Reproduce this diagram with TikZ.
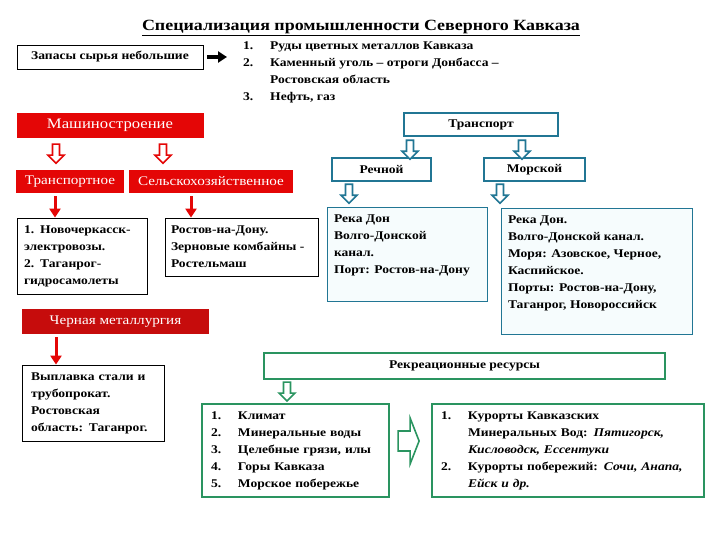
\documentclass[tikz,border=0pt]{standalone}
\usepackage{fontspec}
\setmainfont{Liberation Serif}[FakeStretch=1.15]
\usetikzlibrary{arrows.meta,calc}

\definecolor{mred}{RGB}{228,6,6}
\definecolor{metred}{RGB}{198,12,12}
\definecolor{mteal}{RGB}{33,118,148}
\definecolor{tealfill}{RGB}{246,252,253}
\definecolor{mgreen}{RGB}{42,148,96}

\newcommand{\itm}[1]{\makebox[27pt][l]{#1}}
\newcommand{\toptext}[3]{\parbox[c][#1][t]{#2}{\raggedright\vspace*{3pt}#3}}

\begin{document}
\begin{tikzpicture}
	[ x=1pt, y=-1pt,
		every node/.style={font=\fontsize{11.8}{17}\selectfont\bfseries},
		plain/.style={rectangle,draw=black,line width=0.8pt,fill=white,inner sep=0pt},
		redbox/.style={rectangle,fill=mred,text=white,inner sep=0pt,font=\fontsize{13.2}{15}\selectfont},
		tealhead/.style={rectangle,draw=mteal,line width=2.6pt,fill=white,inner sep=0pt},
		tealbox/.style={rectangle,draw=mteal,line width=0.9pt,fill=tealfill,inner xsep=7pt,inner ysep=5pt},
		greenbox/.style={rectangle,draw=mgreen,line width=2.2pt,fill=white,inner sep=0pt},
		fillarrow/.style={line width=3pt,-{Triangle[width=11pt,length=9pt]}},
		redhollow/.style={draw=mred,line width=1.6pt,fill=white},
		tealhollow/.style={draw=mteal,line width=1.6pt,fill=white},
		greenhollow/.style={draw=mgreen,line width=1.6pt,fill=white},
		pics/hollowdown/.style={code={
			\draw[pic actions] (-3.5,0) -- (-3.5,11) -- (-8,11) -- (0,19) -- (8,11) -- (3.5,11) -- (3.5,0) -- cycle;}},
		pics/hollowright/.style={code={
			\draw[pic actions] (0,-10) -- (12,-10) -- (12,-23) -- (21,0) -- (12,23) -- (12,10) -- (0,10) -- cycle;}}]

	\fill[white] (0,0) rectangle (720,540);
	\useasboundingbox (0,0) rectangle (720,540);

	\node (title) at (361,28) {\fontsize{15.6}{18}\selectfont\underline{Специализация промышленности Северного Кавказа}};

	% raw materials
	\node[plain,minimum width=186pt,minimum height=24pt] (reserves) at (110,57) {Запасы сырья небольшие};
	\node[anchor=north west,align=left,inner sep=0pt] (ores) at (243,42)
		{\itm{1.}Руды цветных металлов Кавказа\\
		 \itm{2.}Каменный уголь – отроги Донбасса –\\
		 \hspace*{27pt}Ростовская область\\
		 \itm{3.}Нефть, газ};
	\draw[fillarrow,line width=3.5pt,shorten <=4pt,shorten >=16pt] (reserves.east) -- (reserves.east -| ores.west);

	% engineering
	\node[redbox,minimum width=187pt,minimum height=25pt,font=\fontsize{14.5}{16}\selectfont] (mach) at (110,125.5) {Машиностроение};
	\node[redbox,minimum width=108pt,minimum height=23pt] (transp) at (70,181.5) {Транспортное};
	\node[redbox,minimum width=164pt,minimum height=23pt] (agri) at (211,181.5) {Сельскохозяйственное};
	\pic[redhollow] at ([xshift=-54pt,yshift=-6pt]mach.south) {hollowdown};
	\pic[redhollow] at ([xshift=53pt,yshift=-6pt]mach.south) {hollowdown};

	\node[plain,minimum width=130pt,minimum height=76pt,text width=116pt,align=left] (novo) at (82,256)
		{1. Новочеркасск-\\электровозы.\\2. Таганрог-\\гидросамолеты};
	\node[plain,minimum width=153pt,minimum height=58pt,inner xsep=6pt,inner ysep=5pt] (rostov) at (241.5,247)
		{\toptext{48pt}{141pt}{Ростов-на-Дону.\\Зерновые комбайны -\\Ростельмаш}};
	\draw[fillarrow,draw=mred] ([xshift=-15pt,yshift=-3pt]transp.south) -- ([xshift=-15pt]transp.south |- novo.north);
	\draw[fillarrow,draw=mred] ([xshift=-20pt,yshift=-3pt]agri.south) -- ([xshift=-20pt]agri.south |- rostov.north);

	% metallurgy
	\node[redbox,fill=metred,minimum width=187pt,minimum height=25pt] (metal) at (115.5,321.5) {Черная металлургия};
	\node[plain,minimum width=142pt,minimum height=76pt,text width=124pt,align=left] (steel) at (93,403)
		{Выплавка стали и\\трубопрокат.\\Ростовская\\область: Таганрог.};
	\draw[fillarrow,draw=mred] ([xshift=-59.5pt,yshift=-3pt]metal.south) -- ([xshift=-59.5pt]metal.south |- steel.north);

	% transport
	\node[tealhead,minimum width=154pt,minimum height=23pt] (transport) at (481,124.5) {Транспорт};
	\node[tealhead,minimum width=99pt,minimum height=23pt] (river) at (381.5,169.5) {Речной};
	\node[tealhead,minimum width=101pt,minimum height=23pt] (sea) at (534.5,169.5) {Морской};
	\pic[tealhollow] at ([xshift=-71pt,yshift=-3pt]transport.south) {hollowdown};
	\pic[tealhollow] at ([xshift=41pt,yshift=-3pt]transport.south) {hollowdown};

	\node[tealbox] (riverinfo) at (407,254)
		{\toptext{84pt}{146pt}{Река Дон\\Волго-Донской\\канал.\\Порт: Ростов-на-Дону}};
	\node[tealbox] (seainfo) at (596.5,271)
		{\toptext{116pt}{177pt}{Река Дон.\\Волго-Донской канал.\\Моря: Азовское, Черное,\\Каспийское.\\Порты: Ростов-на-Дону,\\Таганрог, Новороссийск}};
	\pic[tealhollow] at ([xshift=-32.5pt,yshift=-2pt]river.south) {hollowdown};
	\pic[tealhollow] at ([xshift=-34.5pt,yshift=-2pt]sea.south) {hollowdown};

	% recreation
	\node[greenbox,minimum width=401pt,minimum height=26pt] (recr) at (464.5,366) {Рекреационные ресурсы};
	\node[greenbox,minimum width=187pt,minimum height=93pt,text width=169pt,align=left] (factors) at (295.5,450.5)
		{\itm{1.}Климат\\
		 \itm{2.}Минеральные воды\\
		 \itm{3.}Целебные грязи, илы\\
		 \itm{4.}Горы Кавказа\\
		 \itm{5.}Морское побережье};
	\node[greenbox,minimum width=272pt,minimum height=93pt,text width=254pt,align=left] (resorts) at (568,450.5)
		{\itm{1.}Курорты Кавказских\\
		 \hspace*{27pt}Минеральных Вод: \textit{Пятигорск,}\\
		 \hspace*{27pt}\textit{Кисловодск, Ессентуки}\\
		 \itm{2.}Курорты побережий: \textit{Сочи, Анапа,}\\
		 \hspace*{27pt}\textit{Ейск и др.}};
	\pic[greenhollow] at ([xshift=-177.5pt,yshift=-2pt]recr.south) {hollowdown};
	\pic[greenhollow] at ([xshift=8pt,yshift=9.5pt]factors.east) {hollowright};
\end{tikzpicture}
\end{document}
